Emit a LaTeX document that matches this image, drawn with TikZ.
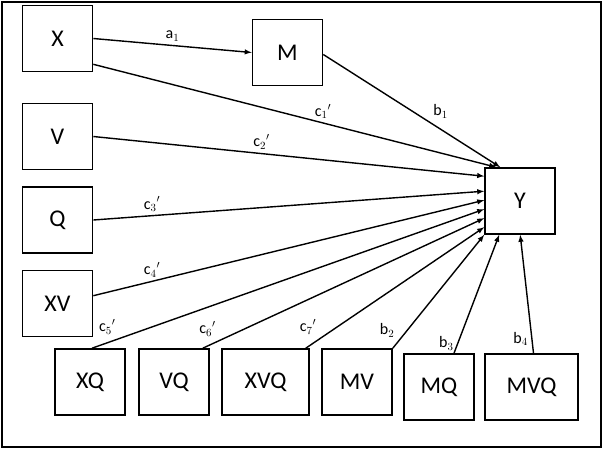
\documentclass[tikz,border=0pt]{standalone}
\usepackage{fontspec}
\setmainfont{Carlito}
\usetikzlibrary{calc}
\tikzset{
  var/.style={draw, line width=1.6pt, minimum width=70pt, minimum height=66pt, inner sep=0pt, font=\fontsize{24}{26}\selectfont},
  path/.style={->, >=latex, line width=1.4pt},
  lab/.style={font=\fontsize{16}{18}\selectfont}
}
\begin{document}
\begin{tikzpicture}[x=1pt,y=-1pt]
  \draw[line width=1.2pt] (2,2) rectangle (601,447);
  \useasboundingbox (0,0) rectangle (604,450);
  % predictor boxes
  \node[var] (X) at (57.5,38.5) {X};
  \node[var] (M) at (287.5,52.5) {M};
  \node[var] (V) at (57.5,136.5) {V};
  \node[var] (Q) at (57.5,220) {Q};
  \node[var] (XV) at (57.5,303.5) {XV};
  \node[var] (Y) at (520,201) {Y};
  \node[var] (XQ) at (90,382) {XQ};
  \node[var] (VQ) at (174,382) {VQ};
  \node[var, minimum width=87pt] (XVQ) at (265.5,382) {XVQ};
  \node[var] (MV) at (357,382) {MV};
  \node[var] (MQ) at (439,387) {MQ};
  \node[var, minimum width=93pt] (MVQ) at (531.5,387) {MVQ};
  % paths
  \draw[path] (X.east) -- (M.west) node[lab, midway, above] {a$_1$};
  \draw[path] ($(X.south east)+(0,-8)$) -- ($(Y.north west)+(12,0)$) node[lab, pos=0.57, above] {c$_1{}'$};
  \draw[path] (M.east) ++(0,2) -- ($(Y.north west)+(16,0)$) node[lab, pos=0.6, above right] {b$_1$};
  \draw[path] (V.east) -- ($(Y.north west)+(0,9)$) node[lab, pos=0.43, above] {c$_2{}'$};
  \draw[path] (Q.east) -- ($(Y.north west)+(0,24)$) node[lab, pos=0.15, above] {c$_3{}'$};
  \draw[path] ($(XV.north east)+(0,26)$) -- ($(Y.north west)+(0,33)$) node[lab, pos=0.15, above] {c$_4{}'$};
  \draw[path] ($(XQ.north)+(2,0)$) -- ($(Y.north west)+(0,42)$) node[lab, pos=0.07, above left] {c$_5{}'$};
  \draw[path] ($(VQ.north east)+(-7,0)$) -- ($(Y.north west)+(0,51)$) node[lab, pos=0.06, above left] {c$_6{}'$};
  \draw[path] ($(XVQ.north east)+(-4,0)$) -- ($(Y.north west)+(0,60)$) node[lab, pos=0.08, above left] {c$_7{}'$};
  \draw[path] (MV.north east) -- ($(Y.south west)+(0,0)$) node[lab, pos=0.06, above left] {b$_2$};
  \draw[path] ($(MQ.north)+(15,0)$) -- ($(Y.south west)+(15,0)$) node[lab, pos=0.08, left] {b$_3$};
  \draw[path] ($(MVQ.north)+(2,0)$) -- ($(Y.south west)+(36,0)$) node[lab, pos=0.12, left] {b$_4$};
\end{tikzpicture}
\end{document}
